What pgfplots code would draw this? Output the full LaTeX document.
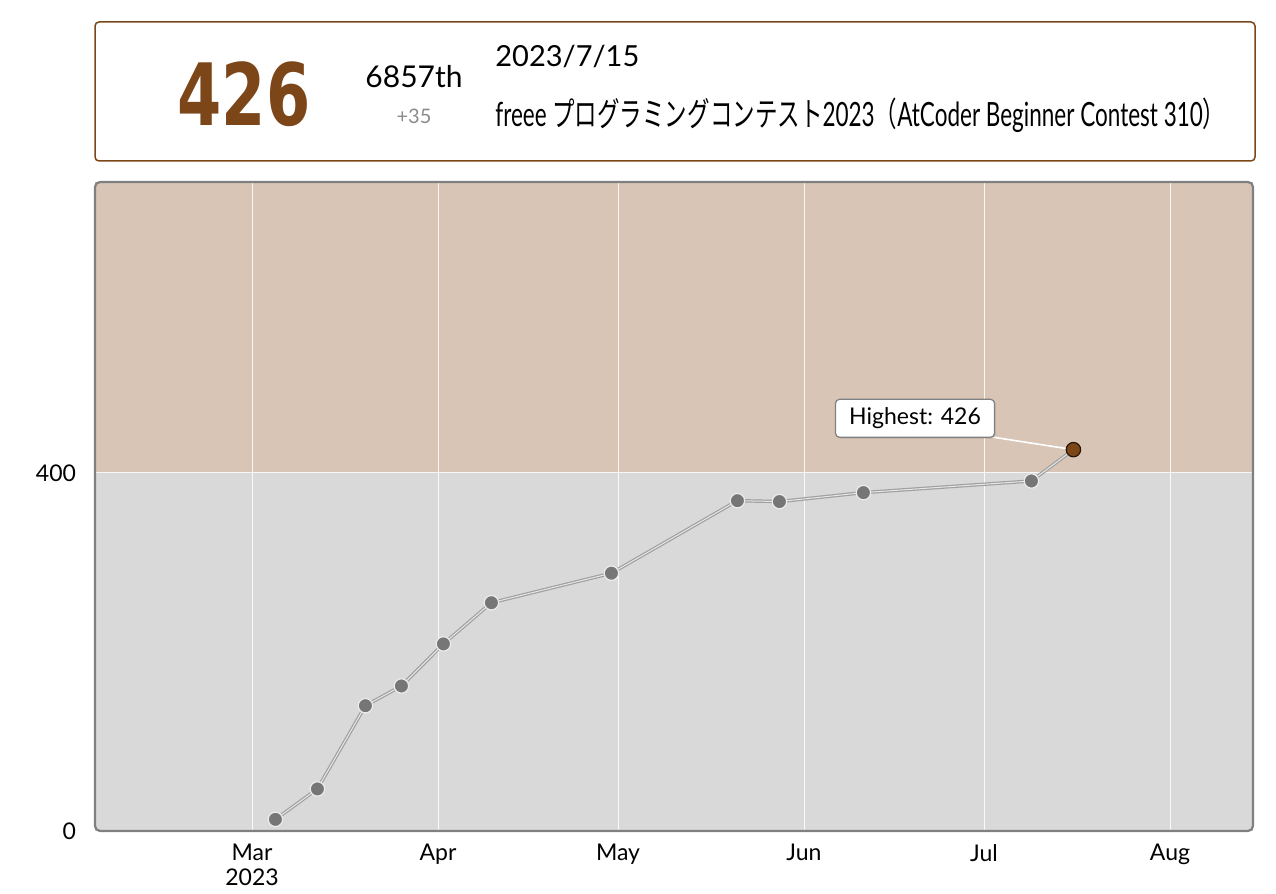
\documentclass[border=0pt]{standalone}
\usepackage{fontspec}
\setmainfont{Lato}
\newfontfamily\jp{Noto Sans CJK JP}
\newfontfamily\ratingfont{DejaVu Sans}
\usepackage{graphicx}
\usepackage{pgfplots}
\usepackage{pgfplotstable}
\pgfplotsset{compat=1.18}
\usetikzlibrary{shadows}

\definecolor{bandbrown}{RGB}{216,197,181}
\definecolor{bandgray}{RGB}{217,217,217}
\definecolor{framegray}{RGB}{128,128,128}
\definecolor{ratebrown}{RGB}{124,70,25}
\definecolor{dotgray}{RGB}{118,118,118}
\definecolor{linegray}{RGB}{160,160,160}

% day = days after 1 Mar 2023 (contest end time)
\pgfplotstableread{
day rating
3.9 13
10.9 47
18.9 140
24.9 162
31.9 209
39.9 255
59.9 288
80.9 369
87.9 368
101.9 378
129.9 391
136.9 426
}\ratings

\begin{document}
\begin{tikzpicture}
\begin{axis}[
  at={(0,0)}, anchor=south west,
  scale only axis, width=579pt, height=324.5pt,
  xmin=-26.17, xmax=166.83, ymin=0, ymax=725,
  xtick={0,31,61,92,122,153},
  xticklabels={Mar\\2023,Apr,May,Jun,Jul,Aug},
  ytick={0,400},
  major tick length=0pt,
  grid=major,
  major grid style={white, opacity=0.85, line width=0.45pt},
  axis line style={draw=none},
  set layers,
  tick label style={font=\fontsize{11.5}{12.5}\selectfont},
  xticklabel style={align=center, yshift=-3pt},
  yticklabel style={xshift=-6pt},
  /pgf/number format/assume math mode=true,
]
\begin{pgfonlayer}{axis background}
\fill[bandgray] (axis cs:-26.17,0) rectangle (axis cs:166.83,400);
\fill[bandbrown] (axis cs:-26.17,400) rectangle (axis cs:166.83,725);
\end{pgfonlayer}

\addplot[linegray, line width=1.7pt] table {\ratings};
\addplot[white!75!linegray, line width=0.5pt] table {\ratings};
\addplot[only marks, mark=*, mark size=3.6pt,
  mark options={fill=dotgray, draw=white!85!gray, line width=0.6pt}] table {\ratings};
\addplot[only marks, mark=*, mark size=3.6pt,
  mark options={fill=ratebrown, draw=black!70!ratebrown, line width=0.6pt}]
  coordinates {(136.9,426)};

\draw[white, line width=0.8pt] (axis cs:120,443.6) -- (axis cs:136.9,426);
\node[draw=gray, line width=0.6pt, fill=white, rounded corners=2pt,
  drop shadow={shadow xshift=0.6pt, shadow yshift=-0.6pt, opacity=0.3},
  minimum width=79.5pt, minimum height=19pt, inner sep=0pt,
  font=\fontsize{11.5}{12}\selectfont] at (axis cs:110.5,461) {Highest: 426};
\end{axis}

% frame of the plot area
\draw[framegray, line width=1.1pt, rounded corners=2.5pt] (0pt,0pt) rectangle (579pt,324.5pt);

% header box
\draw[ratebrown, line width=0.75pt, rounded corners=2pt, fill=white]
  (0pt,335pt) rectangle (580pt,404.5pt);
\node[anchor=base, inner sep=0pt, text=ratebrown] at (74.5pt,352.5pt)
  {\scalebox{0.74}[1]{\ratingfont\bfseries\fontsize{43}{43}\selectfont 426}};
\node[anchor=base, inner sep=0pt, font=\fontsize{15}{15}\selectfont] at (159.5pt,371.5pt) {6857th};
\node[anchor=base, inner sep=0pt, text=black!45, font=\fontsize{10}{10}\selectfont] at (159.5pt,353.5pt) {+35};
\node[anchor=base west, inner sep=0pt, font=\fontsize{14.5}{15}\selectfont] at (200pt,382pt) {2023/7/15};
\node[anchor=base west, inner sep=0pt, font=\fontsize{16.7}{17}\selectfont] at (200pt,352pt)
  {\resizebox{365pt}{\height}{freee {\jp プログラミングコンテスト}2023{\jp （}AtCoder Beginner Contest 310{\jp ）}}};

\pgfresetboundingbox
\path[use as bounding box] (-47.5pt,-31.5pt) rectangle (590.5pt,415.5pt);
\end{tikzpicture}
\end{document}
